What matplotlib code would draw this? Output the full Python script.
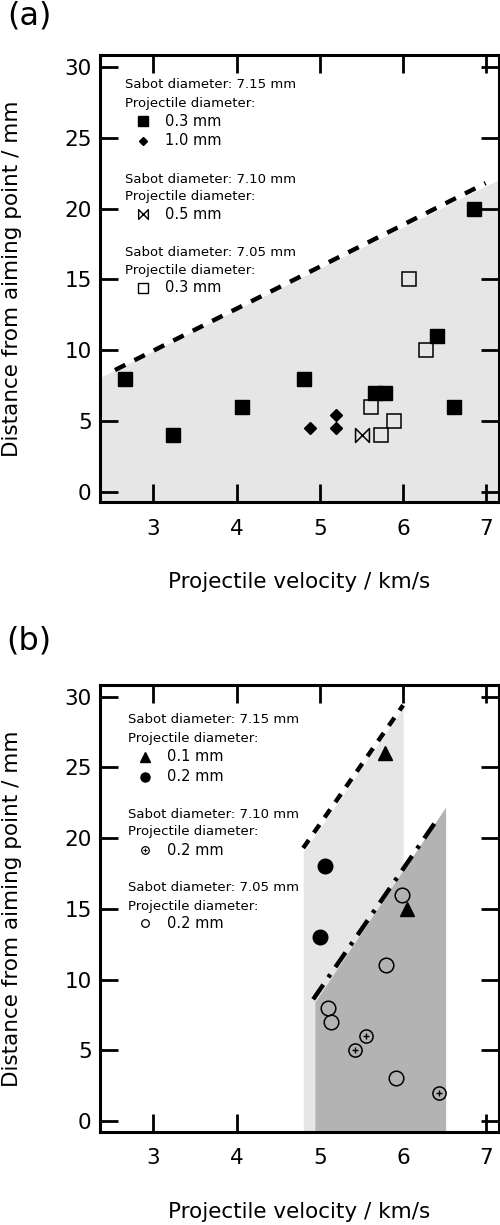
import matplotlib
matplotlib.use("Agg")
import matplotlib.pyplot as plt
from matplotlib.path import Path

plt.rcParams['font.family'] = ['DejaVu Sans']

# ---------------- data: panel (a) ----------------
a_sq715_x = [2.66, 3.24, 4.06, 4.81, 5.66, 5.78, 6.41, 6.61, 6.85]
a_sq715_y = [8, 4, 6, 8, 7, 7, 11, 6, 20]
a_dia715_x = [4.88, 5.19, 5.19]
a_dia715_y = [4.5, 5.4, 4.5]
a_bow710_x = [5.51]
a_bow710_y = [4.0]
a_osq705_x = [5.62, 5.73, 5.89, 6.27, 6.07]
a_osq705_y = [6, 4, 5, 10, 15]
a_fill_x = [2.30, 7.20]
a_fill_top = [7.9, 22.2]
a_line_x = [2.54, 6.99]
a_line_y = [8.6, 21.8]

# ---------------- data: panel (b) ----------------
b_tri715_x = [5.78, 6.05]
b_tri715_y = [26, 15]
b_cir715_x = [5.06, 5.00]
b_cir715_y = [18, 13]
b_plus710_x = [5.42, 5.56, 6.43]
b_plus710_y = [5, 6, 2]
b_ocir705_x = [5.99, 5.80, 5.10, 5.13, 5.91]
b_ocir705_y = [16, 11, 8, 7, 3]
b_light_x = [4.80, 6.00]
b_light_top = [19.0, 29.2]
b_light_line_x = [4.80, 6.00]
b_light_line_y = [19.3, 29.4]
b_dark_x = [4.94, 6.51]
b_dark_top = [8.4, 22.2]
b_dark_line_x = [4.92, 6.43]
b_dark_line_y = [8.6, 21.5]

xticks = [3, 4, 5, 6, 7]
yticks = [0, 5, 10, 15, 20, 25, 30]

LIGHT = '#e6e6e6'
DARK = '#b3b3b3'

bow = Path([(-1, -1), (-1, 1), (1, -1), (1, 1), (-1, -1)],
           [Path.MOVETO, Path.LINETO, Path.LINETO, Path.LINETO, Path.CLOSEPOLY])

fig = plt.figure(figsize=(5, 12.25), dpi=100)
axa = fig.add_axes([0.2, 0.5902, 0.797, 0.3649])
axb = fig.add_axes([0.2, 0.0762, 0.797, 0.3646])


def style(ax, ylim):
    ax.set_xlim(2.36, 7.145)
    ax.set_ylim(*ylim)
    ax.set_xticks(xticks)
    ax.set_yticks(yticks)
    ax.tick_params(direction='in', length=13, width=2, top=True, right=True,
                   labelsize=15.5)
    ax.tick_params(axis='x', pad=12)
    ax.tick_params(axis='y', pad=6)
    for s in ax.spines.values():
        s.set_linewidth(2.2)
        s.set_zorder(10)
    ax.set_xlabel('Projectile velocity / km/s', fontsize=15.5, labelpad=24)
    ax.set_ylabel('Distance from aiming point / mm', fontsize=15.5, labelpad=30)


# ---------------- panel (a) ----------------
ax = axa
ax.fill_between(a_fill_x, a_fill_top, -5, color=LIGHT, lw=0, zorder=1)
ax.plot(a_line_x, a_line_y, color='black', lw=3.2, ls=(0, (2.6, 2.3)), zorder=3)
ax.plot(a_sq715_x, a_sq715_y, 's', ms=10, mfc='black', mec='black', mew=1, ls='none', zorder=5)
ax.plot(a_dia715_x, a_dia715_y, 'D', ms=6.5, mfc='black', mec='black', mew=1, ls='none', zorder=5)
ax.plot(a_bow710_x, a_bow710_y, marker=bow, ms=10, mfc='none', mec='black', mew=1.1, ls='none', zorder=5)
ax.plot(a_osq705_x, a_osq705_y, 's', ms=9.5, mfc='none', mec='black', mew=1.1, ls='none', zorder=6)
style(ax, (-0.72, 30.85))

T = ax.transAxes
lx, mx, tx = 0.0627, 0.1086, 0.163
fs = 9.5
for y, s in [(0.933, 'Sabot diameter: 7.15 mm'), (0.892, 'Projectile diameter:'),
             (0.7226, 'Sabot diameter: 7.10 mm'), (0.683, 'Projectile diameter:'),
             (0.559, 'Sabot diameter: 7.05 mm'), (0.519, 'Projectile diameter:')]:
    ax.text(lx, y, s, transform=T, fontsize=fs, va='center', ha='left')
for y, s in [(0.852, '0.3 mm'), (0.808, '1.0 mm'), (0.644, '0.5 mm'), (0.479, '0.3 mm')]:
    ax.text(tx, y, s, transform=T, fontsize=fs + 1.0, va='center', ha='left')
ax.plot([mx], [0.852], 's', transform=T, ms=7, mfc='black', mec='black', zorder=5)
ax.plot([mx], [0.808], 'D', transform=T, ms=4.5, mfc='black', mec='black', zorder=5)
ax.plot([mx], [0.644], marker=bow, transform=T, ms=7, mfc='none', mec='black', mew=1, zorder=5)
ax.plot([mx], [0.479], 's', transform=T, ms=6.5, mfc='none', mec='black', mew=1, zorder=5)

# ---------------- panel (b) ----------------
ax = axb
ax.fill_between(b_light_x, b_light_top, -5, color=LIGHT, lw=0, zorder=1)
ax.fill_between(b_dark_x, b_dark_top, -5, color=DARK, lw=0, zorder=2)
ax.plot(b_light_line_x, b_light_line_y, color='black', lw=3.2, ls=(0, (2.2, 2.0)), zorder=3)
ax.plot(b_dark_line_x, b_dark_line_y, color='black', lw=3.2, ls=(0, (4.0, 2.0, 0.8, 2.0)), zorder=3)
ax.plot(b_tri715_x, b_tri715_y, '^', ms=10, mfc='black', mec='black', ls='none', zorder=5)
ax.plot(b_cir715_x, b_cir715_y, 'o', ms=10.5, mfc='black', mec='black', ls='none', zorder=5)
ax.plot(b_plus710_x, b_plus710_y, 'o', ms=9.5, mfc='none', mec='black', mew=1.1, ls='none', zorder=5)
ax.plot(b_plus710_x, b_plus710_y, '+', ms=5, mec='black', mew=1.0, ls='none', zorder=5)
ax.plot(b_ocir705_x, b_ocir705_y, 'o', ms=10.5, mfc='none', mec='black', mew=1.1, ls='none', zorder=5)
style(ax, (-0.76, 30.83))

T = ax.transAxes
lx, mx, tx = 0.0709, 0.1128, 0.167
for y, s in [(0.9217, 'Sabot diameter: 7.15 mm'), (0.8807, 'Projectile diameter:'),
             (0.7112, 'Sabot diameter: 7.10 mm'), (0.6716, 'Projectile diameter:'),
             (0.5462, 'Sabot diameter: 7.05 mm'), (0.5052, 'Projectile diameter:')]:
    ax.text(lx, y, s, transform=T, fontsize=fs, va='center', ha='left')
for y, s in [(0.8395, '0.1 mm'), (0.7947, '0.2 mm'), (0.6306, '0.2 mm'), (0.4665, '0.2 mm')]:
    ax.text(tx, y, s, transform=T, fontsize=fs + 1.0, va='center', ha='left')
ax.plot([mx], [0.8395], '^', transform=T, ms=6.5, mfc='black', mec='black', zorder=5)
ax.plot([mx], [0.7947], 'o', transform=T, ms=6.5, mfc='black', mec='black', zorder=5)
ax.plot([mx], [0.6306], 'o', transform=T, ms=5.5, mfc='none', mec='black', mew=0.9, zorder=5)
ax.plot([mx], [0.6306], '+', transform=T, ms=3, mec='black', mew=0.8, zorder=5)
ax.plot([mx], [0.4665], 'o', transform=T, ms=5.5, mfc='none', mec='black', mew=0.9, zorder=5)

fig.text(0.058, 0.987, '(a)', fontsize=23, ha='center', va='center')
fig.text(0.058, 0.477, '(b)', fontsize=23, ha='center', va='center')

fig.savefig('out.png', dpi=100)
